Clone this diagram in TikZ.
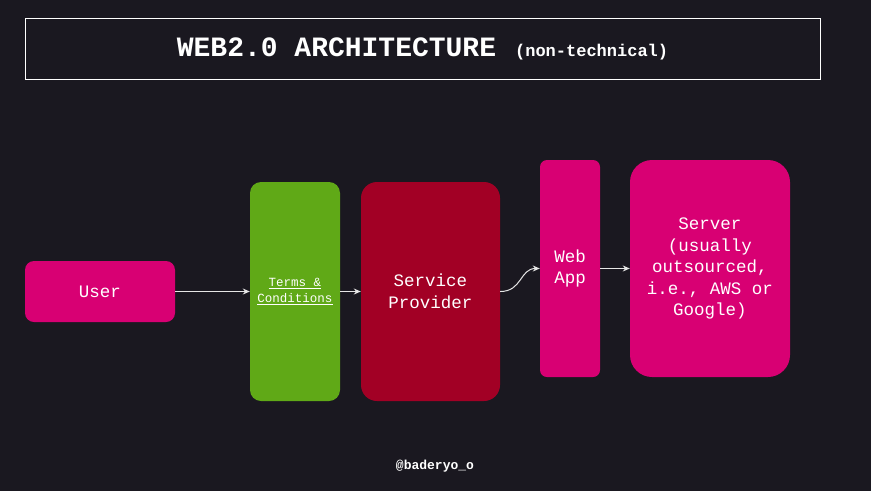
\documentclass[tikz,border=0pt]{standalone}
\usepackage{fontspec}
\setmonofont{Liberation Mono}
\usepackage{xcolor}
\usetikzlibrary{arrows.meta, positioning}

\definecolor{bgdark}{HTML}{1A1820}
\definecolor{magentabox}{HTML}{D80073}
\definecolor{greenbox}{HTML}{60A917}
\definecolor{crimsonbox}{HTML}{A20025}
\definecolor{linegray}{HTML}{E6E6E6}

\begin{document}
\begin{tikzpicture}[
    x=1pt, y=-1pt,
    box/.style={rectangle, rounded corners=9pt, draw=none, text=white, align=center, inner sep=0pt,
        font=\ttfamily\fontsize{17.5}{21.5}\selectfont},
    arrow/.style={-{Stealth[length=7pt, width=6pt]}, linegray, line width=1pt}
]

\fill[bgdark] (0,0) rectangle (871,491);
\useasboundingbox (0,0) rectangle (871,491);

% title banner
\node[draw=white, line width=0.8pt, minimum width=795pt, minimum height=61pt, inner sep=0pt,
    text=white, font=\ttfamily] (title) at (422.5,48.5)
    {{\fontsize{28}{30}\selectfont\bfseries WEB2.0 ARCHITECTURE}\hspace{19pt}{\fontsize{17}{20}\selectfont\bfseries (non-technical)}};

% boxes
\node[box, fill=magentabox, minimum width=150pt, minimum height=61pt] (user) at (100,291.5) {User};
\node[box, fill=greenbox, rounded corners=11pt, minimum width=90pt, minimum height=219pt,
    font=\ttfamily\fontsize{12.5}{16}\selectfont] (terms) at (295,291.5)
    {\underline{Terms \&}\\\underline{Conditions}};
\node[box, fill=crimsonbox, rounded corners=16pt, minimum width=139pt, minimum height=219pt] (provider) at (430.5,291.5)
    {Service\\Provider};
\node[box, fill=magentabox, rounded corners=7pt, minimum width=60pt, minimum height=217pt] (webapp) at (570,268.5)
    {Web\\App};
\node[box, fill=magentabox, rounded corners=22pt, minimum width=160pt, minimum height=217pt] (server) at (710,268.5)
    {Server\\(usually\\outsourced,\\i.e., AWS or\\Google)};

% credit
\node[text=white, font=\ttfamily\bfseries\fontsize{13}{15}\selectfont] (credit) at (435,466) {@baderyo\_o};

% flow
\draw[arrow] (user) -- (terms);
\draw[arrow] (terms) -- (provider);
\draw[arrow] (provider.east) .. controls +(22,0) and +(-20,0) .. (webapp.west);
\draw[arrow] (webapp) -- (server);

\end{tikzpicture}
\end{document}
